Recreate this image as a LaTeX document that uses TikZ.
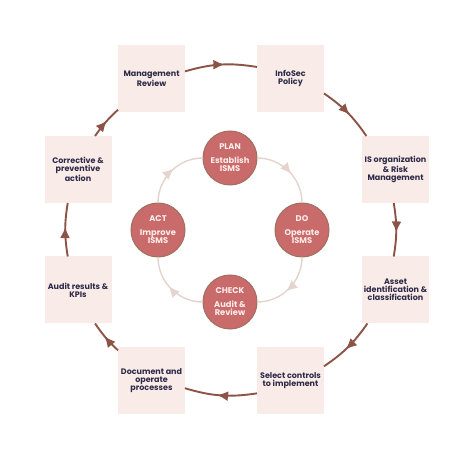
\documentclass[tikz,border=0pt]{standalone}
\usepackage{fontspec}
\setmainfont{Poppins}
\usetikzlibrary{arrows.meta,decorations.markings}
\definecolor{boxfill}{HTML}{F9ECE8}
\definecolor{navy}{HTML}{2D2A48}
\definecolor{outarrow}{HTML}{8C5446}
\definecolor{rose}{HTML}{C96A6B}
\definecolor{roseline}{HTML}{A0705E}
\definecolor{inarrow}{HTML}{E4D4CD}
\definecolor{pale}{HTML}{FDEDEA}
\tikzset{
  stepbox/.style={rectangle, fill=boxfill, minimum size=67pt, inner sep=0pt, outer sep=0pt,
    align=center, text=navy, font=\fontsize{8}{8}\selectfont\bfseries},
  phase/.style={circle, fill=rose, draw=roseline, line width=1pt, minimum size=54pt, inner sep=0pt, outer sep=0pt,
    align=center, text=pale, font=\fontsize{8.3}{8.5}\selectfont\bfseries},
  outer/.style={draw=outarrow, line width=1.9pt,
    postaction={decorate, decoration={markings, mark=at position 0.55 with {\arrow[outarrow]{Latex[length=11pt,width=10pt]}}}}},
  inner/.style={draw=inarrow, line width=1.4pt,
    postaction={decorate, decoration={markings, mark=at position 0.55 with {\arrow[inarrow]{Latex[length=11pt,width=10pt]}}}}},
}
\begin{document}
\begin{tikzpicture}[x=1pt,y=1pt]
\useasboundingbox[fill=white] (0,0) rectangle (460,460);
% outer boxes
\node[stepbox] (mr)  at (151.5,381.5) {Management\\Review};
\node[stepbox] (ip)  at (290.5,381.5) {InfoSec\\Policy};
\node[stepbox] (is)  at (395.5,290.5) {IS organization\\\& Risk\\Management};
\node[stepbox] (as)  at (395.5,170) {Asset\\identification \&\\classification};
\node[stepbox] (sc)  at (290.5,79.5) {Select controls\\to implement};
\node[stepbox] (doc) at (151.5,79.5) {Document and\\operate\\processes};
\node[stepbox] (ar)  at (78,170) {Audit results \&\\KPIs};
\node[stepbox] (ca)  at (78,290.5) {Corrective \&\\preventive\\action};
% outer connectors
\path[outer] (mr.12) to[bend left=12.6] (ip.161.2);
\path[outer] (ip.-24.8) to[bend left=10.4] (is.131.3);
\path[outer] (is.-93.8) to[bend left=9.3] (as.93.6);
\path[outer] (as.-130.9) to[bend left=10.5] (sc.23.4);
\path[outer] (sc.-159.7) to[bend left=12.6] (doc.-13.6);
\path[outer] (doc.138.3) to[bend left=6.3] (ar.-63.7);
\path[outer] (ar.107.2) to[bend left=9.3] (ca.-107.1);
\path[outer] (ca.63.2) to[bend left=6.2] (mr.-137.4);
% inner cycle
\node[phase] (plan)  at (230,302) {PLAN\\[5pt]Establish\\ISMS};
\node[phase] (do)    at (302,230) {DO\\[5pt]Operate\\ISMS};
\node[phase] (check) at (230,158) {CHECK\\[5pt]Audit \&\\Review};
\node[phase] (act)   at (158,230) {ACT\\[5pt]Improve\\ISMS};
\path[inner] (plan) to[bend left=45] (do);
\path[inner] (do) to[bend left=45] (check);
\path[inner] (check) to[bend left=45] (act);
\path[inner] (act) to[bend left=45] (plan);
\end{tikzpicture}
\end{document}
